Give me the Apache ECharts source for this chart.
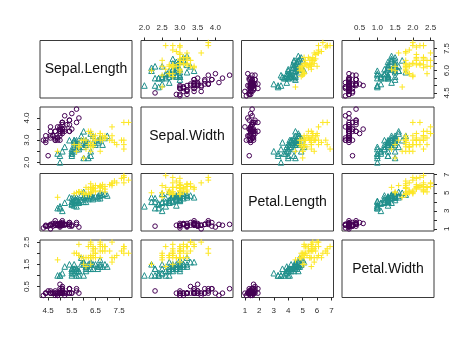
<!DOCTYPE html>
<html>
<head>
<meta charset="utf-8">
<script src="https://cdn.jsdelivr.net/npm/echarts@6/dist/echarts.min.js"></script>
<style>
  html, body { margin: 0; padding: 0; background: #ffffff; }
  #chart { width: 474px; height: 338px; }
</style>
</head>
<body>
<div id="chart"></div>
<script>
// Edgar Anderson's iris measurements (cm), 50 flowers per species
const sepalLength = [
  5.1,4.9,4.7,4.6,5.0,5.4,4.6,5.0,4.4,4.9,5.4,4.8,4.8,4.3,5.8,5.7,5.4,5.1,5.7,5.1,5.4,5.1,4.6,5.1,4.8,
  5.0,5.0,5.2,5.2,4.7,4.8,5.4,5.2,5.5,4.9,5.0,5.5,4.9,4.4,5.1,5.0,4.5,4.4,5.0,5.1,4.8,5.1,4.6,5.3,5.0,
  7.0,6.4,6.9,5.5,6.5,5.7,6.3,4.9,6.6,5.2,5.0,5.9,6.0,6.1,5.6,6.7,5.6,5.8,6.2,5.6,5.9,6.1,6.3,6.1,6.4,
  6.6,6.8,6.7,6.0,5.7,5.5,5.5,5.8,6.0,5.4,6.0,6.7,6.3,5.6,5.5,5.5,6.1,5.8,5.0,5.6,5.7,5.7,6.2,5.1,5.7,
  6.3,5.8,7.1,6.3,6.5,7.6,4.9,7.3,6.7,7.2,6.5,6.4,6.8,5.7,5.8,6.4,6.5,7.7,7.7,6.0,6.9,5.6,7.7,6.3,6.7,
  7.2,6.2,6.1,6.4,7.2,7.4,7.9,6.4,6.3,6.1,7.7,6.3,6.4,6.0,6.9,6.7,6.9,5.8,6.8,6.7,6.7,6.3,6.5,6.2,5.9
];
const sepalWidth = [
  3.5,3.0,3.2,3.1,3.6,3.9,3.4,3.4,2.9,3.1,3.7,3.4,3.0,3.0,4.0,4.4,3.9,3.5,3.8,3.8,3.4,3.7,3.6,3.3,3.4,
  3.0,3.4,3.5,3.4,3.2,3.1,3.4,4.1,4.2,3.1,3.2,3.5,3.6,3.0,3.4,3.5,2.3,3.2,3.5,3.8,3.0,3.8,3.2,3.7,3.3,
  3.2,3.2,3.1,2.3,2.8,2.8,3.3,2.4,2.9,2.7,2.0,3.0,2.2,2.9,2.9,3.1,3.0,2.7,2.2,2.5,3.2,2.8,2.5,2.8,2.9,
  3.0,2.8,3.0,2.9,2.6,2.4,2.4,2.7,2.7,3.0,3.4,3.1,2.3,3.0,2.5,2.6,3.0,2.6,2.3,2.7,3.0,2.9,2.9,2.5,2.8,
  3.3,2.7,3.0,2.9,3.0,3.0,2.5,2.9,2.5,3.6,3.2,2.7,3.0,2.5,2.8,3.2,3.0,3.8,2.6,2.2,3.2,2.8,2.8,2.7,3.3,
  3.2,2.8,3.0,2.8,3.0,2.8,3.8,2.8,2.8,2.6,3.0,3.4,3.1,3.0,3.1,3.1,3.1,2.7,3.2,3.3,3.0,2.5,3.0,3.4,3.0
];
const petalLength = [
  1.4,1.4,1.3,1.5,1.4,1.7,1.4,1.5,1.4,1.5,1.5,1.6,1.4,1.1,1.2,1.5,1.3,1.4,1.7,1.5,1.7,1.5,1.0,1.7,1.9,
  1.6,1.6,1.5,1.4,1.6,1.6,1.5,1.5,1.4,1.5,1.2,1.3,1.4,1.3,1.5,1.3,1.3,1.3,1.6,1.9,1.4,1.6,1.4,1.5,1.4,
  4.7,4.5,4.9,4.0,4.6,4.5,4.7,3.3,4.6,3.9,3.5,4.2,4.0,4.7,3.6,4.4,4.5,4.1,4.5,3.9,4.8,4.0,4.9,4.7,4.3,
  4.4,4.8,5.0,4.5,3.5,3.8,3.7,3.9,5.1,4.5,4.5,4.7,4.4,4.1,4.0,4.4,4.6,4.0,3.3,4.2,4.2,4.2,4.3,3.0,4.1,
  6.0,5.1,5.9,5.6,5.8,6.6,4.5,6.3,5.8,6.1,5.1,5.3,5.5,5.0,5.1,5.3,5.5,6.7,6.9,5.0,5.7,4.9,6.7,4.9,5.7,
  6.0,4.8,4.9,5.6,5.8,6.1,6.4,5.6,5.1,5.6,6.1,5.6,5.5,4.8,5.4,5.6,5.1,5.1,5.9,5.7,5.2,5.0,5.2,5.4,5.1
];
const petalWidth = [
  0.2,0.2,0.2,0.2,0.2,0.4,0.3,0.2,0.2,0.1,0.2,0.2,0.1,0.1,0.2,0.4,0.4,0.3,0.3,0.3,0.2,0.4,0.2,0.5,0.2,
  0.2,0.4,0.2,0.2,0.2,0.2,0.4,0.1,0.2,0.2,0.2,0.2,0.1,0.2,0.2,0.3,0.3,0.2,0.6,0.4,0.3,0.2,0.2,0.2,0.2,
  1.4,1.5,1.5,1.3,1.5,1.3,1.6,1.0,1.3,1.4,1.0,1.5,1.0,1.4,1.3,1.4,1.5,1.0,1.5,1.1,1.8,1.3,1.5,1.2,1.3,
  1.4,1.4,1.7,1.5,1.0,1.1,1.0,1.2,1.6,1.5,1.6,1.5,1.3,1.3,1.3,1.2,1.4,1.2,1.0,1.3,1.2,1.3,1.3,1.1,1.3,
  2.5,1.9,2.1,1.8,2.2,2.1,1.7,1.8,1.8,2.5,2.0,1.9,2.1,2.0,2.4,2.3,1.8,2.2,2.3,1.5,2.3,2.0,2.0,1.8,2.1,
  1.8,1.8,1.8,2.1,1.6,1.9,2.0,2.2,1.5,1.4,2.3,2.4,1.8,1.8,2.1,2.4,2.3,1.9,2.3,2.5,2.3,1.9,2.0,2.3,1.8
];

const variableNames = ['Sepal.Length', 'Sepal.Width', 'Petal.Length', 'Petal.Width'];
const speciesNames = ['setosa', 'versicolor', 'virginica'];
const speciesSizes = [50, 50, 50];

// tick marks on each variable's scale, and which of them get a label
const tickValues = [
  [4.5, 5.0, 5.5, 6.0, 6.5, 7.0, 7.5],
  [2.0, 2.5, 3.0, 3.5, 4.0],
  [1, 2, 3, 4, 5, 6, 7],
  [0.5, 1.0, 1.5, 2.0, 2.5]
];
const horizontalLabels = [
  [4.5, 5.5, 6.5, 7.5],
  [2.0, 2.5, 3.0, 3.5, 4.0],
  [1, 2, 3, 4, 5, 6, 7],
  [0.5, 1.0, 1.5, 2.0, 2.5]
];
const verticalLabels = [
  [4.5, 6.0, 7.5],
  [2.0, 3.0, 4.0],
  [1, 3, 5, 7],
  [0.5, 1.5, 2.5]
];
const labelDecimals = [1, 1, 0, 1];

// ---- appearance ----
const speciesColors = ['#440154', '#21908C', '#FDE725'];
const speciesSymbols = ['circle', 'triangle', 'path://M5,0L5,10M0,5L10,5'];
const speciesSymbolSizes = [4.6, 5.6, 5.8];
const colLeft = [40, 141, 241.5, 342];
const rowTop = [40.5, 107, 173.5, 240];
const panelW = 92;
const panelH = 57.5;
const inkColor = '#2b2b2b';
const boxColor = '#3a3a3a';

const variables = [sepalLength, sepalWidth, petalLength, petalWidth];
const nVar = variables.length;

// species label for every flower
const species = [];
speciesNames.forEach((name, s) => { for (let k = 0; k < speciesSizes[s]; k++) species.push(s); });

// data range padded by 4% on each side
const ranges = variables.map(v => {
  const lo = Math.min(...v), hi = Math.max(...v), pad = (hi - lo) * 0.04;
  return [lo - pad, hi + pad];
});

const grids = [], xAxes = [], yAxes = [], series = [], graphics = [];

function axisSpec(varIdx, gridIdx, kind, show, position, labelVals) {
  const dec = labelDecimals[varIdx];
  return {
    type: 'value',
    gridIndex: gridIdx,
    min: ranges[varIdx][0],
    max: ranges[varIdx][1],
    show: show,
    position: position,
    axisLine: { show: false },
    splitLine: { show: false },
    axisTick: {
      show: true, length: 3, inside: false,
      customValues: tickValues[varIdx],
      lineStyle: { color: inkColor, width: 1 }
    },
    axisLabel: {
      show: true,
      customValues: labelVals,
      margin: 9,
      rotate: kind === 'y' ? 90 : 0,
      fontFamily: 'Liberation Sans, Arial, sans-serif',
      fontSize: 8,
      color: inkColor,
      formatter: v => Number(v).toFixed(dec)
    }
  };
}

for (let i = 0; i < nVar; i++) {        // row: variable on the y axis
  for (let j = 0; j < nVar; j++) {      // column: variable on the x axis
    const g = grids.length;
    grids.push({
      left: colLeft[j], top: rowTop[i], width: panelW, height: panelH,
      show: true, borderColor: boxColor, borderWidth: 1, backgroundColor: 'transparent'
    });
    const showTop = (i === 0 && j % 2 === 1);
    const showBottom = (i === nVar - 1 && j % 2 === 0);
    const showLeft = (j === 0 && i % 2 === 1);
    const showRight = (j === nVar - 1 && i % 2 === 0);
    xAxes.push(axisSpec(j, g, 'x', showTop || showBottom, showTop ? 'top' : 'bottom', horizontalLabels[j]));
    yAxes.push(axisSpec(i, g, 'y', showLeft || showRight, showRight ? 'right' : 'left', verticalLabels[i]));

    if (i === j) {
      graphics.push({
        type: 'text',
        x: colLeft[j] + panelW / 2,
        y: rowTop[i] + panelH / 2,
        style: {
          text: variableNames[i],
          fontFamily: 'Liberation Sans, Arial, sans-serif',
          fontSize: 14,
          fill: '#111',
          align: 'center',
          verticalAlign: 'middle'
        }
      });
      continue;
    }

    speciesNames.forEach((name, s) => {
      const pts = [];
      for (let k = 0; k < species.length; k++) {
        if (species[k] === s) pts.push([variables[j][k], variables[i][k]]);
      }
      series.push({
        type: 'scatter',
        name: name,
        xAxisIndex: g,
        yAxisIndex: g,
        data: pts,
        symbol: speciesSymbols[s],
        symbolSize: speciesSymbolSizes[s],
        itemStyle: {
          color: 'rgba(0,0,0,0)',
          borderColor: speciesColors[s],
          borderWidth: 1,
          opacity: 1
        },
        emphasis: { disabled: true },
        silent: true
      });
    });
  }
}

const chart = echarts.init(document.getElementById('chart'), null, { renderer: 'canvas' });
chart.setOption({
  backgroundColor: '#ffffff',
  animation: false,
  grid: grids,
  xAxis: xAxes,
  yAxis: yAxes,
  series: series,
  graphic: graphics
});
</script>
</body>
</html>
